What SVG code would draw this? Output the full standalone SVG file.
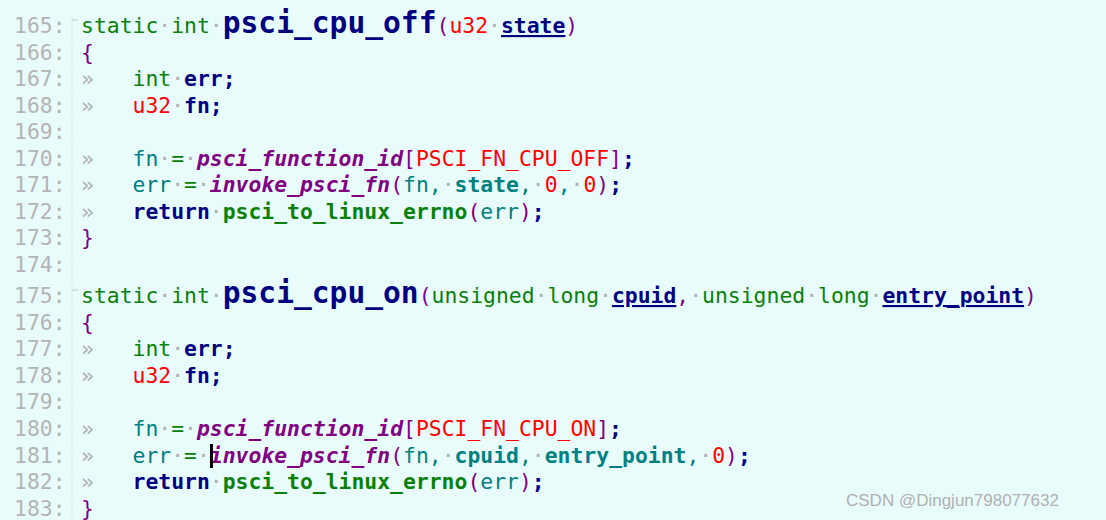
<svg xmlns="http://www.w3.org/2000/svg" width="1106" height="520" viewBox="0 0 1106 520">
<style>
text{font-family:"DejaVu Sans Mono","Liberation Mono",monospace;font-size:21.4px;white-space:pre}
.ln{fill:#b4b4b4}
.d{fill:#b0b0b0}
.g{fill:#0a800a}
.gb{fill:#0a800a;font-weight:bold}
.n{fill:#000080;font-weight:bold}
.nb{fill:#000080;font-weight:bold;font-size:29.6px}
.u{text-decoration:underline}
.p{fill:#800080}
.pi{fill:#800080;font-weight:bold;font-style:italic}
.t{fill:#008080}
.tb{fill:#008080;font-weight:bold}
.r{fill:#ff0000}
.wm{font-family:"Liberation Sans",Arial,sans-serif;font-size:17px;fill:#b0b0b0}
</style>
<rect width="1106" height="520" fill="#e8fcfc"/>
<g id="gutter">
<line x1="72" y1="18" x2="72" y2="518" stroke="#c8c8c8" stroke-dasharray="1,2"/>
<line x1="72" y1="20" x2="78" y2="20" stroke="#c8c8c8"/>
<line x1="72" y1="290" x2="78" y2="290" stroke="#c8c8c8"/>
<text class="ln" x="14" y="33">165:</text>
<text class="ln" x="14" y="59.5">166:</text>
<text class="ln" x="14" y="86">167:</text>
<text class="ln" x="14" y="112.5">168:</text>
<text class="ln" x="14" y="139">169:</text>
<text class="ln" x="14" y="165.5">170:</text>
<text class="ln" x="14" y="192">171:</text>
<text class="ln" x="14" y="218.5">172:</text>
<text class="ln" x="14" y="245">173:</text>
<text class="ln" x="14" y="271.5">174:</text>
<text class="ln" x="14" y="303">175:</text>
<text class="ln" x="14" y="329.6">176:</text>
<text class="ln" x="14" y="356.2">177:</text>
<text class="ln" x="14" y="382.8">178:</text>
<text class="ln" x="14" y="409.4">179:</text>
<text class="ln" x="14" y="436">180:</text>
<text class="ln" x="14" y="462.6">181:</text>
<text class="ln" x="14" y="489.2">182:</text>
<text class="ln" x="14" y="515.8">183:</text>
</g>
<g id="code">
<text x="81" y="33"><tspan class="g">static</tspan><tspan class="d">·</tspan><tspan class="g">int</tspan><tspan class="d">·</tspan><tspan class="nb">psci_cpu_off</tspan><tspan class="p">(</tspan><tspan class="r">u32</tspan><tspan class="d">·</tspan><tspan class="n u">state</tspan><tspan class="p">)</tspan></text>
<text x="81" y="59.5" class="p">{</text>
<text x="81" y="86"><tspan class="d">»   </tspan><tspan class="g">int</tspan><tspan class="d">·</tspan><tspan class="n">err;</tspan></text>
<text x="81" y="112.5"><tspan class="d">»   </tspan><tspan class="r">u32</tspan><tspan class="d">·</tspan><tspan class="n">fn;</tspan></text>
<text x="81" y="165.5"><tspan class="d">»   </tspan><tspan class="t">fn</tspan><tspan class="d">·</tspan><tspan class="g">=</tspan><tspan class="d">·</tspan><tspan class="pi">psci_function_id</tspan><tspan class="p">[</tspan><tspan class="r">PSCI_FN_CPU_OFF</tspan><tspan class="p">]</tspan><tspan class="n">;</tspan></text>
<text x="81" y="192"><tspan class="d">»   </tspan><tspan class="t">err</tspan><tspan class="d">·</tspan><tspan class="g">=</tspan><tspan class="d">·</tspan><tspan class="pi">invoke_psci_fn</tspan><tspan class="p">(</tspan><tspan class="t">fn,</tspan><tspan class="d">·</tspan><tspan class="tb">state</tspan><tspan class="t">,</tspan><tspan class="d">·</tspan><tspan class="r">0</tspan><tspan class="t">,</tspan><tspan class="d">·</tspan><tspan class="r">0</tspan><tspan class="p">)</tspan><tspan class="n">;</tspan></text>
<text x="81" y="218.5"><tspan class="d">»   </tspan><tspan class="n">return</tspan><tspan class="d">·</tspan><tspan class="gb">psci_to_linux_errno</tspan><tspan class="p">(</tspan><tspan class="t">err</tspan><tspan class="p">)</tspan><tspan class="n">;</tspan></text>
<text x="81" y="245" class="p">}</text>
<text x="81" y="303"><tspan class="g">static</tspan><tspan class="d">·</tspan><tspan class="g">int</tspan><tspan class="d">·</tspan><tspan class="nb">psci_cpu_on</tspan><tspan class="p">(</tspan><tspan class="g">unsigned</tspan><tspan class="d">·</tspan><tspan class="g">long</tspan><tspan class="d">·</tspan><tspan class="n u">cpuid</tspan><tspan class="p">,</tspan><tspan class="d">·</tspan><tspan class="g">unsigned</tspan><tspan class="d">·</tspan><tspan class="g">long</tspan><tspan class="d">·</tspan><tspan class="n u">entry_point</tspan><tspan class="p">)</tspan></text>
<text x="81" y="329.6" class="p">{</text>
<text x="81" y="356.2"><tspan class="d">»   </tspan><tspan class="g">int</tspan><tspan class="d">·</tspan><tspan class="n">err;</tspan></text>
<text x="81" y="382.8"><tspan class="d">»   </tspan><tspan class="r">u32</tspan><tspan class="d">·</tspan><tspan class="n">fn;</tspan></text>
<text x="81" y="436"><tspan class="d">»   </tspan><tspan class="t">fn</tspan><tspan class="d">·</tspan><tspan class="g">=</tspan><tspan class="d">·</tspan><tspan class="pi">psci_function_id</tspan><tspan class="p">[</tspan><tspan class="r">PSCI_FN_CPU_ON</tspan><tspan class="p">]</tspan><tspan class="n">;</tspan></text>
<text x="81" y="462.6"><tspan class="d">»   </tspan><tspan class="t">err</tspan><tspan class="d">·</tspan><tspan class="g">=</tspan><tspan class="d">·</tspan><tspan class="pi">invoke_psci_fn</tspan><tspan class="p">(</tspan><tspan class="t">fn,</tspan><tspan class="d">·</tspan><tspan class="tb">cpuid</tspan><tspan class="t">,</tspan><tspan class="d">·</tspan><tspan class="tb">entry_point</tspan><tspan class="t">,</tspan><tspan class="d">·</tspan><tspan class="r">0</tspan><tspan class="p">)</tspan><tspan class="n">;</tspan></text>
<text x="81" y="489.2"><tspan class="d">»   </tspan><tspan class="n">return</tspan><tspan class="d">·</tspan><tspan class="gb">psci_to_linux_errno</tspan><tspan class="p">(</tspan><tspan class="t">err</tspan><tspan class="p">)</tspan><tspan class="n">;</tspan></text>
<text x="81" y="515.8" class="p">}</text>
<rect x="210" y="444" width="3" height="24" fill="#000"/>
</g>
<text class="wm" x="846" y="506">CSDN @Dingjun798077632</text>
</svg>
